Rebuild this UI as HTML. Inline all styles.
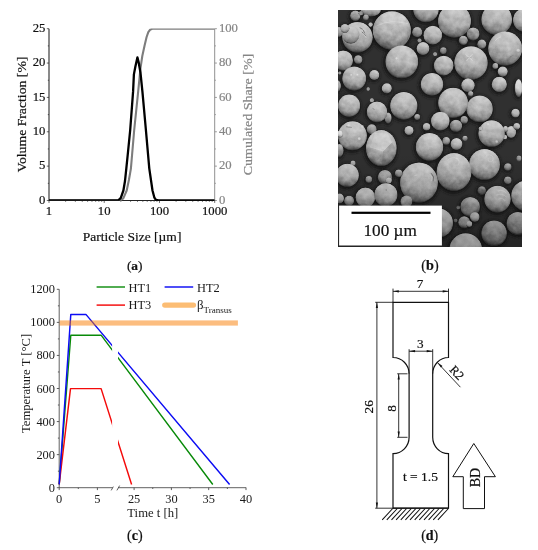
<!DOCTYPE html>
<html><head><meta charset="utf-8"><title>Figure</title>
<style>html,body{margin:0;padding:0;background:#fff}svg{display:block}text{font-family:'Liberation Serif', serif;}#pa text,#pb text,#pd text,.lb{stroke:#111;stroke-width:0.2px}#pa text.gy{stroke:#858585}</style>
</head><body>
<svg width="538" height="550" viewBox="0 0 538 550">
<rect width="538" height="550" fill="#fff"/>
<g id="pa">
<path d="M49.0 28.7V200.5H214.7" fill="none" stroke="#222" stroke-width="1.05"/>
<path d="M214.7 28.7V200.5" fill="none" stroke="#858585" stroke-width="0.9"/>
<path d="M46.8 200.50H49.0M47.8 183.32H49.0M46.8 166.14H49.0M47.8 148.96H49.0M46.8 131.78H49.0M47.8 114.60H49.0M46.8 97.42H49.0M47.8 80.24H49.0M46.8 63.06H49.0M47.8 45.88H49.0M46.8 28.70H49.0" stroke="#2a2a2a" stroke-width="0.7" fill="none"/>
<path d="M214.7 200.50h2.2M214.7 183.32h1.2M214.7 166.14h2.2M214.7 148.96h1.2M214.7 131.78h2.2M214.7 114.60h1.2M214.7 97.42h2.2M214.7 80.24h1.2M214.7 63.06h2.2M214.7 45.88h1.2M214.7 28.70h2.2" stroke="#858585" stroke-width="0.8" fill="none"/>
<path d="M49.00 200.5v2.4M65.63 200.5v1.3M75.35 200.5v1.3M82.25 200.5v1.3M87.61 200.5v1.3M91.98 200.5v1.3M95.68 200.5v1.3M98.88 200.5v1.3M101.71 200.5v1.3M104.23 200.5v2.4M120.86 200.5v1.3M130.59 200.5v1.3M137.49 200.5v1.3M142.84 200.5v1.3M147.21 200.5v1.3M150.91 200.5v1.3M154.11 200.5v1.3M156.94 200.5v1.3M159.47 200.5v2.4M176.09 200.5v1.3M185.82 200.5v1.3M192.72 200.5v1.3M198.07 200.5v1.3M202.45 200.5v1.3M206.14 200.5v1.3M209.35 200.5v1.3M212.17 200.5v1.3M214.70 200.5v2.4" stroke="#2a2a2a" stroke-width="0.7" fill="none"/>
<text x="45.4" y="203.7" font-size="12.7" text-anchor="end" fill="#111">0</text>
<text x="45.4" y="169.3" font-size="12.7" text-anchor="end" fill="#111">5</text>
<text x="45.4" y="135.0" font-size="12.7" text-anchor="end" fill="#111">10</text>
<text x="45.4" y="100.6" font-size="12.7" text-anchor="end" fill="#111">15</text>
<text x="45.4" y="66.3" font-size="12.7" text-anchor="end" fill="#111">20</text>
<text x="45.4" y="31.9" font-size="12.7" text-anchor="end" fill="#111">25</text>
<text x="218.9" y="203.7" font-size="12.7" class="gy" fill="#858585">0</text>
<text x="218.9" y="169.3" font-size="12.7" class="gy" fill="#858585">20</text>
<text x="218.9" y="135.0" font-size="12.7" class="gy" fill="#858585">40</text>
<text x="218.9" y="100.6" font-size="12.7" class="gy" fill="#858585">60</text>
<text x="218.9" y="66.3" font-size="12.7" class="gy" fill="#858585">80</text>
<text x="218.9" y="31.9" font-size="12.7" class="gy" fill="#858585">100</text>
<text x="49.0" y="215.2" font-size="12.7" text-anchor="middle" fill="#111">1</text>
<text x="104.2" y="215.2" font-size="12.7" text-anchor="middle" fill="#111">10</text>
<text x="159.5" y="215.2" font-size="12.7" text-anchor="middle" fill="#111">100</text>
<text x="214.7" y="215.2" font-size="12.7" text-anchor="middle" fill="#111">1000</text>
<text x="132.1" y="240.5" font-size="13" text-anchor="middle" fill="#111" textLength="98.6" lengthAdjust="spacingAndGlyphs">Particle Size [µm]</text>
<text transform="translate(26.0 114.4) rotate(-90)" font-size="13" text-anchor="middle" fill="#111" textLength="115.6" lengthAdjust="spacingAndGlyphs">Volume Fraction [%]</text>
<text transform="translate(252.4 114.5) rotate(-90)" font-size="13" class="gy" text-anchor="middle" fill="#858585" textLength="121.5" lengthAdjust="spacingAndGlyphs">Cumulated Share [%]</text>
<clipPath id="pac"><rect x="49.0" y="28.45" width="165.7" height="172.20000000000002"/></clipPath>
<g clip-path="url(#pac)">
<polyline points="49.0,200.5 118.5,200.5 120.6,200.2 123.3,198.3 126.7,190.5 128.9,180.0 130.9,168.6 134.2,130.0 138.2,91.4 140.5,68.2 142.3,56.0 144.7,45.0 146.6,37.0 148.3,32.2 150.0,29.8 152.2,28.8 214.7,28.7" fill="none" stroke="#7d7d7d" stroke-width="2.1" stroke-linejoin="round"/>
<polyline points="49.0,200.5 116.4,200.5 118.6,200.1 120.9,197.7 123.4,190.5 125.0,181.0 126.3,168.6 127.7,155.0 130.2,130.0 133.1,91.4 133.9,74.4 135.4,66.5 137.4,57.4 138.6,62.0 140.5,72.8 142.4,91.4 145.9,130.0 149.3,168.6 152.5,190.5 154.4,197.7 156.0,200.0 158.5,200.5 214.7,200.5" fill="none" stroke="#000" stroke-width="2.3" stroke-linejoin="round"/>
</g>
<text x="134.7" y="269.6" font-size="13.4" text-anchor="middle" fill="#111">(<tspan font-weight="bold">a</tspan>)</text>
</g>
<defs>
<radialGradient id="sg" cx="0.5" cy="0.47" r="0.53"><stop offset="0" stop-color="#bbbbbb"/><stop offset="0.6" stop-color="#b4b4b4"/><stop offset="0.84" stop-color="#a6a6a6"/><stop offset="0.94" stop-color="#8c8c8c"/><stop offset="1" stop-color="#464646"/></radialGradient>
<radialGradient id="sd" cx="0.5" cy="0.47" r="0.53"><stop offset="0" stop-color="#9c9c9c"/><stop offset="0.6" stop-color="#949494"/><stop offset="0.86" stop-color="#808080"/><stop offset="1" stop-color="#404040"/></radialGradient>
<radialGradient id="sb" cx="0.5" cy="0.47" r="0.53"><stop offset="0" stop-color="#d8d8d8"/><stop offset="0.7" stop-color="#cccccc"/><stop offset="1" stop-color="#7c7c7c"/></radialGradient>
<radialGradient id="sk" cx="0.5" cy="0.47" r="0.53"><stop offset="0" stop-color="#707070"/><stop offset="0.7" stop-color="#666"/><stop offset="1" stop-color="#363636"/></radialGradient>
<linearGradient id="vg" x1="0" y1="0" x2="0" y2="1"><stop offset="0" stop-color="#000" stop-opacity="0"/><stop offset="0.6" stop-color="#000" stop-opacity="0"/><stop offset="1" stop-color="#000" stop-opacity="0.24"/></linearGradient>
<linearGradient id="ov" x1="0.6" y1="0" x2="0.4" y2="1"><stop offset="0" stop-color="#fff" stop-opacity="0.42"/><stop offset="0.18" stop-color="#fff" stop-opacity="0.26"/><stop offset="0.38" stop-color="#fff" stop-opacity="0.05"/><stop offset="0.47" stop-color="#808080" stop-opacity="0"/><stop offset="0.58" stop-color="#000" stop-opacity="0.05"/><stop offset="0.75" stop-color="#000" stop-opacity="0.17"/><stop offset="0.9" stop-color="#000" stop-opacity="0.34"/><stop offset="1" stop-color="#000" stop-opacity="0.5"/></linearGradient>
<clipPath id="semclip"><rect x="0" y="0" width="184" height="237"/></clipPath>
<filter id="blur" x="-5%" y="-5%" width="110%" height="110%" color-interpolation-filters="sRGB"><feGaussianBlur in="SourceGraphic" stdDeviation="0.45" result="b"/><feTurbulence type="fractalNoise" baseFrequency="0.16" numOctaves="3" seed="7" result="n"/><feColorMatrix in="n" type="matrix" values="0.32 0 0 0 0.34  0.32 0 0 0 0.34  0.32 0 0 0 0.34  0 0 0 0 1" result="n2"/><feComposite in="n2" in2="b" operator="in" result="n3"/><feBlend in="n3" in2="b" mode="overlay" result="o"/><feComposite in="o" in2="b" operator="in"/></filter>
<filter id="fb" x="-5%" y="-5%" width="110%" height="110%"><feGaussianBlur stdDeviation="0.4"/></filter>
<filter id="shb" x="-5%" y="-5%" width="110%" height="110%"><feGaussianBlur stdDeviation="1.5"/></filter>
</defs>
<g id="pb" transform="translate(338 10)"><g clip-path="url(#semclip)">
<rect x="0" y="0" width="184" height="237" fill="#303030"/>
<g filter="url(#shb)" fill="#141414">
<ellipse cx="32.2" cy="0.5" rx="11.7" ry="8.2"/>
<ellipse cx="16.7" cy="6.8" rx="6.3" ry="6.3"/>
<ellipse cx="87.4" cy="0.4" rx="14.4" ry="14.4"/>
<ellipse cx="0.3" cy="23.0" rx="5.0" ry="6.1"/>
<ellipse cx="18.9" cy="28.2" rx="17.0" ry="17.0"/>
<ellipse cx="12.1" cy="25.8" rx="9.9" ry="9.9"/>
<ellipse cx="6.3" cy="19.3" rx="5.5" ry="5.5"/>
<ellipse cx="53.3" cy="21.5" rx="21.2" ry="21.2"/>
<ellipse cx="78.6" cy="23.2" rx="6.2" ry="6.2"/>
<ellipse cx="94.2" cy="26.2" rx="10.8" ry="10.8"/>
<ellipse cx="84.4" cy="39.5" rx="7.7" ry="7.7"/>
<ellipse cx="63.2" cy="52.8" rx="18.2" ry="18.2"/>
<ellipse cx="4.5" cy="51.4" rx="11.4" ry="11.4"/>
<ellipse cx="19.6" cy="50.6" rx="5.4" ry="5.4"/>
<ellipse cx="15.6" cy="69.4" rx="13.5" ry="13.5"/>
<ellipse cx="35.7" cy="66.0" rx="6.2" ry="6.2"/>
<ellipse cx="48.2" cy="79.3" rx="6.2" ry="6.2"/>
<ellipse cx="-1.6" cy="77.0" rx="5.0" ry="7.2"/>
<ellipse cx="115.9" cy="12.0" rx="18.4" ry="18.4"/>
<ellipse cx="158.1" cy="10.4" rx="17.1" ry="17.1"/>
<ellipse cx="186.4" cy="11.0" rx="13.5" ry="13.5"/>
<ellipse cx="134.5" cy="24.9" rx="7.7" ry="7.7"/>
<ellipse cx="124.7" cy="31.4" rx="5.7" ry="5.7"/>
<ellipse cx="143.2" cy="35.2" rx="5.7" ry="5.7"/>
<ellipse cx="166.6" cy="39.5" rx="18.9" ry="18.9"/>
<ellipse cx="104.7" cy="41.7" rx="4.4" ry="4.4"/>
<ellipse cx="132.4" cy="54.0" rx="18.6" ry="18.6"/>
<ellipse cx="105.1" cy="56.6" rx="11.3" ry="11.3"/>
<ellipse cx="164.1" cy="62.6" rx="6.2" ry="6.2"/>
<ellipse cx="156.7" cy="57.1" rx="4.0" ry="4.0"/>
<ellipse cx="160.7" cy="75.4" rx="9.0" ry="9.0"/>
<ellipse cx="129.4" cy="76.2" rx="8.0" ry="8.0"/>
<ellipse cx="93.4" cy="75.3" rx="12.8" ry="12.8"/>
<ellipse cx="180.0" cy="79.0" rx="4.9" ry="10.3"/>
<ellipse cx="10.5" cy="96.7" rx="12.6" ry="12.6"/>
<ellipse cx="49.5" cy="108.9" rx="4.6" ry="6.6"/>
<ellipse cx="38.4" cy="102.9" rx="11.7" ry="11.7"/>
<ellipse cx="65.2" cy="96.7" rx="15.3" ry="15.3"/>
<ellipse cx="33.1" cy="120.3" rx="6.1" ry="6.1"/>
<ellipse cx="13.9" cy="126.8" rx="16.2" ry="16.2"/>
<ellipse cx="1.4" cy="125.0" rx="4.0" ry="4.5"/>
<ellipse cx="42.7" cy="139.1" rx="17.1" ry="19.9"/>
<ellipse cx="70.4" cy="121.5" rx="5.7" ry="5.7"/>
<ellipse cx="88.0" cy="117.8" rx="4.8" ry="4.8"/>
<ellipse cx="78.6" cy="108.0" rx="4.0" ry="4.0"/>
<ellipse cx="0.6" cy="141.5" rx="5.6" ry="7.7"/>
<ellipse cx="141.0" cy="99.8" rx="14.9" ry="14.9"/>
<ellipse cx="114.5" cy="93.8" rx="16.7" ry="16.7"/>
<ellipse cx="101.7" cy="112.1" rx="10.8" ry="10.8"/>
<ellipse cx="117.4" cy="116.9" rx="7.4" ry="7.4"/>
<ellipse cx="125.6" cy="110.9" rx="4.8" ry="4.8"/>
<ellipse cx="117.9" cy="134.9" rx="7.2" ry="7.2"/>
<ellipse cx="107.6" cy="132.0" rx="4.9" ry="4.9"/>
<ellipse cx="172.6" cy="122.9" rx="6.1" ry="7.2"/>
<ellipse cx="178.1" cy="117.3" rx="4.4" ry="4.4"/>
<ellipse cx="153.0" cy="124.6" rx="14.9" ry="14.9"/>
<ellipse cx="90.9" cy="137.9" rx="15.4" ry="15.4"/>
<ellipse cx="176.9" cy="104.1" rx="5.4" ry="5.4"/>
<ellipse cx="169.2" cy="158.0" rx="4.8" ry="4.8"/>
<ellipse cx="145.9" cy="155.5" rx="17.2" ry="17.2"/>
<ellipse cx="115.4" cy="163.0" rx="19.4" ry="20.9"/>
<ellipse cx="80.4" cy="173.6" rx="20.9" ry="22.0"/>
<ellipse cx="8.7" cy="166.3" rx="13.1" ry="13.1"/>
<ellipse cx="46.4" cy="168.2" rx="8.4" ry="8.4"/>
<ellipse cx="30.2" cy="170.4" rx="4.4" ry="4.4"/>
<ellipse cx="50.2" cy="171.6" rx="4.0" ry="4.0"/>
<ellipse cx="60.1" cy="164.4" rx="4.8" ry="4.8"/>
<ellipse cx="26.8" cy="188.4" rx="11.3" ry="11.3"/>
<ellipse cx="47.3" cy="185.8" rx="13.1" ry="13.1"/>
<ellipse cx="10.5" cy="191.8" rx="6.1" ry="6.1"/>
<ellipse cx="0.9" cy="189.5" rx="5.6" ry="6.1"/>
<ellipse cx="67.8" cy="192.6" rx="7.2" ry="7.2"/>
<ellipse cx="169.2" cy="171.3" rx="4.8" ry="4.8"/>
<ellipse cx="143.2" cy="181.5" rx="5.4" ry="5.4"/>
<ellipse cx="158.9" cy="190.1" rx="14.9" ry="14.9"/>
<ellipse cx="188.1" cy="186.7" rx="17.2" ry="17.2"/>
<ellipse cx="131.6" cy="197.8" rx="11.3" ry="11.3"/>
<ellipse cx="125.6" cy="213.2" rx="7.2" ry="7.2"/>
<ellipse cx="130.7" cy="214.9" rx="4.0" ry="4.0"/>
<ellipse cx="136.2" cy="208.0" rx="5.9" ry="5.9"/>
<ellipse cx="155.5" cy="224.3" rx="14.4" ry="14.4"/>
<ellipse cx="179.4" cy="214.4" rx="13.0" ry="13.0"/>
<ellipse cx="100.0" cy="214.0" rx="16.2" ry="16.2"/>
<ellipse cx="127.1" cy="240.8" rx="18.3" ry="18.3"/>
</g>
<g filter="url(#blur)">
<ellipse cx="32.8" cy="-0.5" rx="10.3" ry="7" fill="url(#sg)"/>
<ellipse cx="32.8" cy="-0.5" rx="10.3" ry="7" fill="url(#ov)"/>
<circle cx="17.3" cy="5.8" r="5.2" fill="url(#sd)"/>
<circle cx="17.3" cy="5.8" r="5.2" fill="url(#ov)"/>
<circle cx="23" cy="3.2" r="2.3" fill="url(#sd)"/>
<circle cx="27.9" cy="7.4" r="2.9" fill="url(#sd)"/>
<circle cx="27.9" cy="7.4" r="2.9" fill="url(#ov)"/>
<circle cx="88" cy="-0.6" r="12.8" fill="url(#sg)"/>
<circle cx="88" cy="-0.6" r="12.8" fill="url(#ov)"/>
<ellipse cx="0.9" cy="22" rx="4" ry="5" fill="url(#sd)"/>
<ellipse cx="0.9" cy="22" rx="4" ry="5" fill="url(#ov)"/>
<circle cx="32.6" cy="14.6" r="2.3" fill="url(#sg)"/>
<circle cx="19.5" cy="27.2" r="15.3" fill="url(#sg)"/>
<circle cx="19.5" cy="27.2" r="15.3" fill="url(#ov)"/>
<circle cx="12.7" cy="24.8" r="8.6" fill="url(#sg)"/>
<circle cx="12.7" cy="24.8" r="8.6" fill="url(#ov)"/>
<circle cx="6.9" cy="18.3" r="4.4" fill="url(#sg)"/>
<circle cx="6.9" cy="18.3" r="4.4" fill="url(#ov)"/>
<circle cx="53.9" cy="20.5" r="19.2" fill="url(#sg)"/>
<circle cx="53.9" cy="20.5" r="19.2" fill="url(#ov)"/>
<circle cx="79.2" cy="22.2" r="5.1" fill="url(#sd)"/>
<circle cx="79.2" cy="22.2" r="5.1" fill="url(#ov)"/>
<circle cx="94.8" cy="25.2" r="9.4" fill="url(#sg)"/>
<circle cx="94.8" cy="25.2" r="9.4" fill="url(#ov)"/>
<circle cx="85" cy="38.5" r="6.5" fill="url(#sg)"/>
<circle cx="85" cy="38.5" r="6.5" fill="url(#ov)"/>
<circle cx="81.5" cy="30.5" r="2.2" fill="url(#sd)"/>
<circle cx="63.8" cy="51.8" r="16.4" fill="url(#sg)"/>
<circle cx="63.8" cy="51.8" r="16.4" fill="url(#ov)"/>
<circle cx="5.1" cy="50.4" r="10" fill="url(#sg)"/>
<circle cx="5.1" cy="50.4" r="10" fill="url(#ov)"/>
<circle cx="20.2" cy="49.6" r="4.3" fill="url(#sd)"/>
<circle cx="20.2" cy="49.6" r="4.3" fill="url(#ov)"/>
<circle cx="16.2" cy="68.4" r="12" fill="url(#sg)"/>
<circle cx="16.2" cy="68.4" r="12" fill="url(#ov)"/>
<circle cx="36.3" cy="65" r="5.1" fill="url(#sg)"/>
<circle cx="36.3" cy="65" r="5.1" fill="url(#ov)"/>
<circle cx="48.8" cy="78.3" r="5.1" fill="url(#sg)"/>
<circle cx="48.8" cy="78.3" r="5.1" fill="url(#ov)"/>
<circle cx="30.2" cy="79" r="1.9" fill="url(#sd)"/>
<ellipse cx="-1" cy="76" rx="4" ry="6" fill="url(#sd)"/>
<ellipse cx="-1" cy="76" rx="4" ry="6" fill="url(#ov)"/>
<circle cx="1.8" cy="63" r="1.8" fill="url(#sd)"/>
<circle cx="116.5" cy="11" r="16.6" fill="url(#sg)"/>
<circle cx="116.5" cy="11" r="16.6" fill="url(#ov)"/>
<circle cx="158.7" cy="9.4" r="15.4" fill="url(#sg)"/>
<circle cx="158.7" cy="9.4" r="15.4" fill="url(#ov)"/>
<circle cx="187" cy="10" r="12" fill="url(#sg)"/>
<circle cx="187" cy="10" r="12" fill="url(#ov)"/>
<circle cx="135.1" cy="23.9" r="6.5" fill="url(#sd)"/>
<circle cx="135.1" cy="23.9" r="6.5" fill="url(#ov)"/>
<circle cx="125.3" cy="30.4" r="4.6" fill="url(#sd)"/>
<circle cx="125.3" cy="30.4" r="4.6" fill="url(#ov)"/>
<circle cx="143.8" cy="34.2" r="4.6" fill="url(#sd)"/>
<circle cx="143.8" cy="34.2" r="4.6" fill="url(#ov)"/>
<circle cx="167.2" cy="38.5" r="17.1" fill="url(#sg)"/>
<circle cx="167.2" cy="38.5" r="17.1" fill="url(#ov)"/>
<circle cx="105.3" cy="40.7" r="3.4" fill="url(#sd)"/>
<circle cx="105.3" cy="40.7" r="3.4" fill="url(#ov)"/>
<circle cx="97.1" cy="44.1" r="2.2" fill="url(#sd)"/>
<circle cx="133" cy="53" r="16.8" fill="url(#sg)"/>
<circle cx="133" cy="53" r="16.8" fill="url(#ov)"/>
<circle cx="105.7" cy="55.6" r="9.9" fill="url(#sg)"/>
<circle cx="105.7" cy="55.6" r="9.9" fill="url(#ov)"/>
<circle cx="164.7" cy="61.6" r="5.1" fill="url(#sg)"/>
<circle cx="164.7" cy="61.6" r="5.1" fill="url(#ov)"/>
<circle cx="157.3" cy="56.1" r="3" fill="url(#sd)"/>
<circle cx="157.3" cy="56.1" r="3" fill="url(#ov)"/>
<circle cx="161.3" cy="74.4" r="7.7" fill="url(#sg)"/>
<circle cx="161.3" cy="74.4" r="7.7" fill="url(#ov)"/>
<circle cx="130" cy="75.2" r="6.8" fill="url(#sg)"/>
<circle cx="130" cy="75.2" r="6.8" fill="url(#ov)"/>
<circle cx="94" cy="74.3" r="11.3" fill="url(#sg)"/>
<circle cx="94" cy="74.3" r="11.3" fill="url(#ov)"/>
<ellipse cx="180.6" cy="78" rx="3.9" ry="9" fill="url(#sb)"/>
<ellipse cx="180.6" cy="78" rx="3.9" ry="9" fill="url(#ov)"/>
<circle cx="132.7" cy="83.8" r="2.6" fill="url(#sd)"/>
<circle cx="132.7" cy="83.8" r="2.6" fill="url(#ov)"/>
<circle cx="11.1" cy="95.7" r="11.1" fill="url(#sg)"/>
<circle cx="11.1" cy="95.7" r="11.1" fill="url(#ov)"/>
<ellipse cx="50.1" cy="107.9" rx="3.6" ry="5.5" fill="url(#sd)"/>
<ellipse cx="50.1" cy="107.9" rx="3.6" ry="5.5" fill="url(#ov)"/>
<circle cx="39" cy="101.9" r="10.3" fill="url(#sg)"/>
<circle cx="39" cy="101.9" r="10.3" fill="url(#ov)"/>
<circle cx="65.8" cy="95.7" r="13.7" fill="url(#sg)"/>
<circle cx="65.8" cy="95.7" r="13.7" fill="url(#ov)"/>
<circle cx="33.9" cy="90.3" r="2.2" fill="url(#sd)"/>
<circle cx="33.7" cy="119.3" r="5" fill="url(#sd)"/>
<circle cx="33.7" cy="119.3" r="5" fill="url(#ov)"/>
<circle cx="14.5" cy="125.8" r="14.5" fill="url(#sg)"/>
<circle cx="14.5" cy="125.8" r="14.5" fill="url(#ov)"/>
<ellipse cx="2" cy="124" rx="3" ry="3.5" fill="url(#sb)"/>
<ellipse cx="2" cy="124" rx="3" ry="3.5" fill="url(#ov)"/>
<ellipse cx="43.3" cy="138.1" rx="15.4" ry="18" fill="url(#sg)"/>
<ellipse cx="43.3" cy="138.1" rx="15.4" ry="18" fill="url(#ov)"/>
<circle cx="71" cy="120.5" r="4.6" fill="url(#sg)"/>
<circle cx="71" cy="120.5" r="4.6" fill="url(#ov)"/>
<circle cx="88.6" cy="116.8" r="3.8" fill="url(#sg)"/>
<circle cx="88.6" cy="116.8" r="3.8" fill="url(#ov)"/>
<circle cx="79.2" cy="107" r="3" fill="url(#sd)"/>
<circle cx="79.2" cy="107" r="3" fill="url(#ov)"/>
<ellipse cx="1.2" cy="140.5" rx="4.5" ry="6.5" fill="url(#sd)"/>
<ellipse cx="1.2" cy="140.5" rx="4.5" ry="6.5" fill="url(#ov)"/>
<circle cx="15" cy="153.2" r="2.6" fill="url(#sd)"/>
<circle cx="15" cy="153.2" r="2.6" fill="url(#ov)"/>
<circle cx="141.6" cy="98.8" r="13.3" fill="url(#sg)"/>
<circle cx="141.6" cy="98.8" r="13.3" fill="url(#ov)"/>
<circle cx="132.7" cy="83.8" r="2.6" fill="url(#sd)"/>
<circle cx="132.7" cy="83.8" r="2.6" fill="url(#ov)"/>
<circle cx="115.1" cy="92.8" r="15" fill="url(#sg)"/>
<circle cx="115.1" cy="92.8" r="15" fill="url(#ov)"/>
<circle cx="102.3" cy="111.1" r="9.4" fill="url(#sg)"/>
<circle cx="102.3" cy="111.1" r="9.4" fill="url(#ov)"/>
<circle cx="118" cy="115.9" r="6.2" fill="url(#sd)"/>
<circle cx="118" cy="115.9" r="6.2" fill="url(#ov)"/>
<circle cx="126.2" cy="109.9" r="3.8" fill="url(#sd)"/>
<circle cx="126.2" cy="109.9" r="3.8" fill="url(#ov)"/>
<circle cx="118.5" cy="133.9" r="6" fill="url(#sg)"/>
<circle cx="118.5" cy="133.9" r="6" fill="url(#ov)"/>
<circle cx="108.2" cy="131" r="3.9" fill="url(#sd)"/>
<circle cx="108.2" cy="131" r="3.9" fill="url(#ov)"/>
<circle cx="127" cy="128.4" r="2.7" fill="url(#sd)"/>
<circle cx="127" cy="128.4" r="2.7" fill="url(#ov)"/>
<ellipse cx="173.2" cy="121.9" rx="5" ry="6" fill="url(#sg)"/>
<ellipse cx="173.2" cy="121.9" rx="5" ry="6" fill="url(#ov)"/>
<circle cx="178.7" cy="116.3" r="3.4" fill="url(#sg)"/>
<circle cx="178.7" cy="116.3" r="3.4" fill="url(#ov)"/>
<ellipse cx="167.5" cy="119" rx="2.5" ry="3" fill="url(#sg)"/>
<ellipse cx="167.5" cy="119" rx="2.5" ry="3" fill="url(#ov)"/>
<ellipse cx="167" cy="127" rx="2.2" ry="2.5" fill="url(#sg)"/>
<circle cx="153.6" cy="123.6" r="13.3" fill="url(#sg)"/>
<circle cx="153.6" cy="123.6" r="13.3" fill="url(#ov)"/>
<circle cx="142.5" cy="118.5" r="2" fill="url(#sg)"/>
<circle cx="91.5" cy="136.9" r="13.8" fill="url(#sg)"/>
<circle cx="91.5" cy="136.9" r="13.8" fill="url(#ov)"/>
<circle cx="177.5" cy="103.1" r="4.3" fill="url(#sg)"/>
<circle cx="177.5" cy="103.1" r="4.3" fill="url(#ov)"/>
<circle cx="169.8" cy="157" r="3.8" fill="url(#sd)"/>
<circle cx="169.8" cy="157" r="3.8" fill="url(#ov)"/>
<ellipse cx="180.9" cy="148.4" rx="2.6" ry="3" fill="url(#sd)"/>
<ellipse cx="180.9" cy="148.4" rx="2.6" ry="3" fill="url(#ov)"/>
<circle cx="146.5" cy="154.5" r="15.5" fill="url(#sg)"/>
<circle cx="146.5" cy="154.5" r="15.5" fill="url(#ov)"/>
<ellipse cx="116" cy="162" rx="17.5" ry="19" fill="url(#sg)"/>
<ellipse cx="116" cy="162" rx="17.5" ry="19" fill="url(#ov)"/>
<ellipse cx="81" cy="172.6" rx="19" ry="20" fill="url(#sg)"/>
<ellipse cx="81" cy="172.6" rx="19" ry="20" fill="url(#ov)"/>
<circle cx="9.3" cy="165.3" r="11.6" fill="url(#sg)"/>
<circle cx="9.3" cy="165.3" r="11.6" fill="url(#ov)"/>
<circle cx="47" cy="167.2" r="7.2" fill="url(#sd)"/>
<circle cx="47" cy="167.2" r="7.2" fill="url(#ov)"/>
<circle cx="30.8" cy="169.4" r="3.4" fill="url(#sd)"/>
<circle cx="30.8" cy="169.4" r="3.4" fill="url(#ov)"/>
<circle cx="50.8" cy="170.6" r="3" fill="url(#sg)"/>
<circle cx="50.8" cy="170.6" r="3" fill="url(#ov)"/>
<circle cx="60.7" cy="163.4" r="3.8" fill="url(#sd)"/>
<circle cx="60.7" cy="163.4" r="3.8" fill="url(#ov)"/>
<circle cx="27.4" cy="187.4" r="9.9" fill="url(#sg)"/>
<circle cx="27.4" cy="187.4" r="9.9" fill="url(#ov)"/>
<circle cx="47.9" cy="184.8" r="11.6" fill="url(#sg)"/>
<circle cx="47.9" cy="184.8" r="11.6" fill="url(#ov)"/>
<circle cx="11.1" cy="190.8" r="5" fill="url(#sd)"/>
<circle cx="11.1" cy="190.8" r="5" fill="url(#ov)"/>
<ellipse cx="1.5" cy="188.5" rx="4.5" ry="5" fill="url(#sg)"/>
<ellipse cx="1.5" cy="188.5" rx="4.5" ry="5" fill="url(#ov)"/>
<circle cx="68.4" cy="191.6" r="6" fill="url(#sd)"/>
<circle cx="68.4" cy="191.6" r="6" fill="url(#ov)"/>
<circle cx="169.8" cy="170.3" r="3.8" fill="url(#sd)"/>
<circle cx="169.8" cy="170.3" r="3.8" fill="url(#ov)"/>
<circle cx="143.8" cy="180.5" r="4.3" fill="url(#sk)"/>
<circle cx="143.8" cy="180.5" r="4.3" fill="url(#ov)"/>
<circle cx="159.5" cy="189.1" r="13.3" fill="url(#sg)"/>
<circle cx="159.5" cy="189.1" r="13.3" fill="url(#ov)"/>
<circle cx="188.7" cy="185.7" r="15.5" fill="url(#sg)"/>
<circle cx="188.7" cy="185.7" r="15.5" fill="url(#ov)"/>
<circle cx="132.2" cy="196.8" r="9.9" fill="url(#sd)"/>
<circle cx="132.2" cy="196.8" r="9.9" fill="url(#ov)"/>
<circle cx="126.2" cy="212.2" r="6" fill="url(#sd)"/>
<circle cx="126.2" cy="212.2" r="6" fill="url(#ov)"/>
<circle cx="131.3" cy="213.9" r="3" fill="url(#sg)"/>
<circle cx="131.3" cy="213.9" r="3" fill="url(#ov)"/>
<circle cx="136.8" cy="207" r="4.8" fill="url(#sg)"/>
<circle cx="136.8" cy="207" r="4.8" fill="url(#ov)"/>
<circle cx="120.2" cy="197.6" r="2" fill="url(#sk)"/>
<circle cx="117.6" cy="210.4" r="2" fill="url(#sk)"/>
<circle cx="156.1" cy="223.3" r="12.8" fill="url(#sd)"/>
<circle cx="156.1" cy="223.3" r="12.8" fill="url(#ov)"/>
<circle cx="180" cy="213.4" r="11.5" fill="url(#sd)"/>
<circle cx="180" cy="213.4" r="11.5" fill="url(#ov)"/>
<circle cx="100.6" cy="213" r="14.5" fill="url(#sg)"/>
<circle cx="100.6" cy="213" r="14.5" fill="url(#ov)"/>
<circle cx="127.7" cy="239.8" r="16.5" fill="url(#sg)"/>
<circle cx="127.7" cy="239.8" r="16.5" fill="url(#ov)"/>
</g>
</g>
<g filter="url(#fb)" fill="none" stroke-linecap="round" clip-path="url(#semclip)">
<path d="M37 123L49 122.5L54 132L45 141L32 137Z" fill="#fff" fill-opacity="0.16"/>
<path d="M54 132L58.5 141L55 152L44 155.5L45 141Z" fill="#000" fill-opacity="0.09"/>
<path d="M45 141L54 132M45 141L32 137" stroke="#fff" stroke-opacity="0.3" stroke-width="0.7"/>
<path d="M127.8 44.6L134.4 50.4M134.2 44.4L128.6 50.8" stroke="#fff" stroke-opacity="0.42" stroke-width="0.8"/>
<path d="M129.2 47.9L133.4 47.3" stroke="#000" stroke-opacity="0.15" stroke-width="0.7"/>
<ellipse cx="55" cy="8.5" rx="13" ry="5.5" fill="#fff" fill-opacity="0.12"/>
<path d="M39.5 15.5Q52 9 69.5 13.5" stroke="#fff" stroke-opacity="0.3" stroke-width="0.7"/>
<path d="M70 22Q71 27 69 31" stroke="#000" stroke-opacity="0.18" stroke-width="0.8"/>
<path d="M93.5 163.5Q96.8 166.5 95.2 171" stroke="#000" stroke-opacity="0.4" stroke-width="0.9"/>
<path d="M92.3 164.5Q95.2 167 93.9 170.5" stroke="#fff" stroke-opacity="0.35" stroke-width="0.7"/>
<path d="M76 166L79 165" stroke="#fff" stroke-opacity="0.3" stroke-width="0.8"/>
<path d="M160 181Q165 179 168 183M158.5 185Q164 182.5 168.5 187M161 189Q165 187.5 167 190.5" stroke="#fff" stroke-opacity="0.3" stroke-width="0.8"/>
<path d="M110 150Q114 146 119 148.5Q123 151 120 155" stroke="#fff" stroke-opacity="0.25" stroke-width="0.9"/>
<path d="M148 146Q152 143 155 147Q156 151 152 152Q149 151 150 148.5" stroke="#fff" stroke-opacity="0.25" stroke-width="0.8"/>
<path d="M22 17.8L24.5 19.2M24 22L27.5 25.5M25.5 20.5L26.5 23" stroke="#000" stroke-opacity="0.4" stroke-width="0.9"/>
<path d="M25.5 23.5L28 27.5" stroke="#fff" stroke-opacity="0.4" stroke-width="0.8"/>
<path d="M8.5 116.8L13.5 117.4" stroke="#000" stroke-opacity="0.3" stroke-width="0.9"/>
<circle cx="21.2" cy="128.6" r="1.3" fill="#fff" fill-opacity="0.45"/><circle cx="24.6" cy="116.4" r="1.4" fill="#fff" fill-opacity="0.3"/><circle cx="10.5" cy="115.3" r="1.2" fill="#fff" fill-opacity="0.3"/>
<circle cx="13.2" cy="64.8" r="0.9" fill="#fff" fill-opacity="0.45"/><circle cx="19.4" cy="64.6" r="0.9" fill="#fff" fill-opacity="0.45"/>
<path d="M157 31Q159 27.5 162.5 27" stroke="#fff" stroke-opacity="0.3" stroke-width="0.9"/>
<circle cx="180.3" cy="40.2" r="1.5" fill="#fff" fill-opacity="0.4"/>
<path d="M172 47L175 45.5" stroke="#000" stroke-opacity="0.2" stroke-width="0.8"/>
<circle cx="58.5" cy="48.3" r="1.1" fill="#fff" fill-opacity="0.4"/>
<path d="M34.8 98.5L36.2 99.4" stroke="#000" stroke-opacity="0.3" stroke-width="0.8"/>
<circle cx="158.8" cy="131.5" r="1.2" fill="#fff" fill-opacity="0.4"/><circle cx="150" cy="114" r="1" fill="#fff" fill-opacity="0.3"/>
<circle cx="48.2" cy="180" r="0.8" fill="#000" fill-opacity="0.25"/>
</g>
<rect x="0" y="0" width="184" height="237" fill="url(#vg)" clip-path="url(#semclip)"/>
<rect x="1.1" y="195.6" width="102.8" height="39.9" fill="#fff"/>
<rect x="13.5" y="201.7" width="79" height="2.2" fill="#000"/>
<text x="52.2" y="225.9" font-size="17" text-anchor="middle" fill="#111" textLength="53.4" lengthAdjust="spacingAndGlyphs">100 µm</text>
</g>
<text class="lb" x="430" y="269.9" font-size="14.2" text-anchor="middle" fill="#111">(<tspan font-weight="bold">b</tspan>)</text>
<g id="pc">
<path d="M59.2 289.3V487.7H112.6M118.3 487.7H246.2" fill="none" stroke="#383838" stroke-width="0.8"/>
<path d="M111.2 490.4l2.7 -4.8M116.9 490.4l2.7 -4.8" fill="none" stroke="#383838" stroke-width="0.8"/>
<path d="M56.800000000000004 487.70H59.2M57.900000000000006 471.17H59.2M56.800000000000004 454.63H59.2M57.900000000000006 438.10H59.2M56.800000000000004 421.57H59.2M57.900000000000006 405.03H59.2M56.800000000000004 388.50H59.2M57.900000000000006 371.97H59.2M56.800000000000004 355.43H59.2M57.900000000000006 338.90H59.2M56.800000000000004 322.37H59.2M57.900000000000006 305.83H59.2M56.800000000000004 289.30H59.2M59.20 487.7v2.4M97.40 487.7v2.4M78.30 487.7v1.3M134.10 487.7v2.4M152.75 487.7v1.3M171.40 487.7v2.4M190.05 487.7v1.3M208.70 487.7v2.4M227.35 487.7v1.3M246.00 487.7v2.4" stroke="#383838" stroke-width="0.8" fill="none"/>
<text x="55.0" y="491.7" font-size="12.4" text-anchor="end" fill="#1a1a1a">0</text>
<text x="55.0" y="458.6" font-size="12.4" text-anchor="end" fill="#1a1a1a">200</text>
<text x="55.0" y="425.6" font-size="12.4" text-anchor="end" fill="#1a1a1a">400</text>
<text x="55.0" y="392.5" font-size="12.4" text-anchor="end" fill="#1a1a1a">600</text>
<text x="55.0" y="359.4" font-size="12.4" text-anchor="end" fill="#1a1a1a">800</text>
<text x="55.0" y="326.4" font-size="12.4" text-anchor="end" fill="#1a1a1a">1000</text>
<text x="55.0" y="293.3" font-size="12.4" text-anchor="end" fill="#1a1a1a">1200</text>
<text x="59.2" y="502.5" font-size="12.4" text-anchor="middle" fill="#1a1a1a">0</text>
<text x="97.4" y="502.5" font-size="12.4" text-anchor="middle" fill="#1a1a1a">5</text>
<text x="134.1" y="502.5" font-size="12.4" text-anchor="middle" fill="#1a1a1a">25</text>
<text x="171.4" y="502.5" font-size="12.4" text-anchor="middle" fill="#1a1a1a">30</text>
<text x="208.7" y="502.5" font-size="12.4" text-anchor="middle" fill="#1a1a1a">35</text>
<text x="246.0" y="502.5" font-size="12.4" text-anchor="middle" fill="#1a1a1a">40</text>
<text x="152.8" y="516.7" font-size="12.8" text-anchor="middle" fill="#1a1a1a" textLength="51" lengthAdjust="spacingAndGlyphs">Time t [h]</text>
<text transform="translate(29.8 383.4) rotate(-90)" font-size="12.8" text-anchor="middle" fill="#1a1a1a" textLength="99.3" lengthAdjust="spacingAndGlyphs">Temperature T [°C]</text>
<polyline points="59.2,484.4 70.8,335.2 101.1,335.2 212.8,484.5" fill="none" stroke="#088a08" stroke-width="1.4" stroke-linejoin="round"/>
<polyline points="59.2,484.4 70.5,388.6 101.1,388.6 131.6,484.5" fill="none" stroke="#f40a0a" stroke-width="1.45" stroke-linejoin="round"/>
<polyline points="59.2,484.4 70.8,314.4 85.9,314.4 229.6,484.5" fill="none" stroke="#0c0cf4" stroke-width="1.45" stroke-linejoin="round"/>
<rect x="112.1" y="330" width="5.9" height="156.6" fill="#fff"/>
<rect x="59.7" y="320.4" width="178.2" height="5.2" fill="#f97b00" fill-opacity="0.5"/>
<path d="M96.6 287H125" stroke="#088a08" stroke-width="1.4"/>
<path d="M164.6 287H193.2" stroke="#0c0cf4" stroke-width="1.45"/>
<path d="M96.6 305.1H125" stroke="#f40a0a" stroke-width="1.45"/>
<path d="M164.8 305.1H193.4" stroke="#fcbd74" stroke-width="5.4" stroke-linecap="round"/>
<text x="128.6" y="291.5" font-size="12.4" fill="#1a1a1a">HT1</text>
<text x="197.1" y="291.5" font-size="12.4" fill="#1a1a1a">HT2</text>
<text x="128.6" y="309.2" font-size="12.4" fill="#1a1a1a">HT3</text>
<text x="197.1" y="309.2" font-size="12.8" fill="#1a1a1a">β<tspan font-size="9" dy="3.9">Transus</tspan></text>
<text class="lb" x="134.9" y="539.9" font-size="14" text-anchor="middle" fill="#111">(<tspan font-weight="bold">c</tspan>)</text>
</g>
<g id="pd">
<path d="M393.0 302.3H448.5V357.5A15.8 16.3 0 0 0 432.7 373.8V437.3A15.8 16.3 0 0 0 448.5 453.6V508.2H393.0V453.6A16.1 16.3 0 0 0 409.1 437.3V373.8A16.1 16.3 0 0 0 393.0 357.5Z" fill="none" stroke="#111" stroke-width="1.2"/>
<path d="M393.0 302.3V288.6M448.5 302.3V288.6M393.0 291.3H448.5 M393.0 302.3H375.2M393.0 508.2H375.2M376.9 302.3V508.2 M409.1 373.8V349.2M432.7 373.8V349.2M409.1 351.2H432.7 M407.5 373.8H397.2M407.5 437.3H397.2M398.7 373.8V437.3 M437.4 362.6L460.4 387.2" fill="none" stroke="#111" stroke-width="0.85"/>
<path d="M393.0 291.3L398.8 290.2L398.8 292.4ZM448.5 291.3L442.7 292.4L442.7 290.2ZM376.9 302.3L378.0 308.1L375.8 308.1ZM376.9 508.2L375.8 502.4L378.0 502.4ZM409.1 351.2L415.1 350.1L415.1 352.3ZM432.7 351.2L426.7 352.3L426.7 350.1ZM398.7 373.8L399.8 379.6L397.6 379.6ZM398.7 437.3L397.6 431.5L399.8 431.5ZM437.6 362.4L442.5 366.0L440.9 367.5Z" fill="#111" stroke="none"/>
<path d="M393.0 508.2H448.5" stroke="#111" stroke-width="1.0"/>
<path d="M392.7 508.5l-10.5 11.3M397.3 508.5l-10.5 11.3M402.0 508.5l-10.5 11.3M406.6 508.5l-10.5 11.3M411.3 508.5l-10.5 11.3M415.9 508.5l-10.5 11.3M420.5 508.5l-10.5 11.3M425.2 508.5l-10.5 11.3M429.8 508.5l-10.5 11.3M434.5 508.5l-10.5 11.3M439.1 508.5l-10.5 11.3M443.7 508.5l-10.5 11.3M448.4 508.5l-10.5 11.3" stroke="#111" stroke-width="1.05" fill="none"/>
<path d="M473.8 443.5L495.4 476.7H484.5V508.6H463.3V476.7H452.8Z" fill="#fff" stroke="#111" stroke-width="1.0" stroke-linejoin="miter"/>
<text x="420" y="288.0" font-size="13.2" text-anchor="middle" fill="#111">7</text>
<text x="420.2" y="348.2" font-size="13.2" text-anchor="middle" fill="#111">3</text>
<text transform="translate(373.3 406.8) rotate(-90)" font-size="13.2" text-anchor="middle" fill="#111">26</text>
<text transform="translate(395.5 408.5) rotate(-90)" font-size="13.2" text-anchor="middle" fill="#111">8</text>
<text transform="translate(453.8 375.6) rotate(47)" font-size="12.6" text-anchor="middle" fill="#111">R2</text>
<text x="420.4" y="481.2" font-size="12.6" text-anchor="middle" fill="#111" textLength="35" lengthAdjust="spacingAndGlyphs">t = 1.5</text>
<text transform="translate(479.6 477.6) rotate(-90)" font-size="14" text-anchor="middle" fill="#111">BD</text>
<text x="429.7" y="540.0" font-size="14" text-anchor="middle" fill="#111">(<tspan font-weight="bold">d</tspan>)</text>
</g>
</svg>
</body></html>
